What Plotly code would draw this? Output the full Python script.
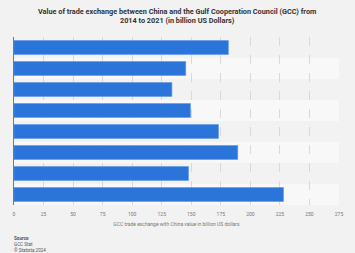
import plotly.graph_objects as go

years = ["2014", "2015", "2016", "2017", "2018", "2019", "2020", "2021"]
values = [181.4, 145.3, 133.6, 149.3, 173.0, 189.3, 147.6, 228.0]
tick_vals = [0, 25, 50, 75, 100, 125, 150, 175, 200, 225, 250, 275]

fig = go.Figure()
fig.add_trace(go.Bar(
    y=years, x=values, orientation="h",
    marker=dict(color="#2a74da", line=dict(color="#5d95e3", width=0.6)),
    width=0.66,
))

shapes = []
for i, yr in enumerate(years):
    shapes.append(dict(
        type="rect", xref="paper", yref="y", layer="below",
        x0=0, x1=1, y0=i - 0.5, y1=i + 0.5,
        fillcolor="#f2f2f2" if i % 2 == 0 else "#f8f8f8", line=dict(width=0),
    ))

fig.update_layout(
    width=355, height=253,
    margin=dict(l=14, r=13, t=37, b=48),
    paper_bgcolor="#f2f2f2", plot_bgcolor="#f2f2f2",
    showlegend=False,
    shapes=shapes,
    bargap=0.34,
    xaxis=dict(
        range=[0, 275], tickvals=tick_vals, ticktext=[str(v) for v in tick_vals],
        showgrid=True, gridcolor="#d9d9d9", griddash="dash", gridwidth=0.7,
        zeroline=False, ticks="", showline=False, ticklabelstandoff=5,
        tickfont=dict(family="Roboto, Arial", size=5, color="#777777"),
        title=dict(text="GCC trade exchange with China value in billion US dollars",
                   font=dict(family="Roboto, Arial", size=5, color="#777777"), standoff=6),
    ),
    yaxis=dict(
        autorange="reversed", showticklabels=False, ticks="", showgrid=False,
        showline=True, linecolor="#777777", linewidth=1,
    ),
    annotations=[
        dict(text="<b>Value of trade exchange between China and the Gulf Cooperation Council (GCC) from<br>2014 to 2021 (in billion US Dollars)</b>",
             xref="paper", yref="paper", x=0.5, y=1.19, xanchor="center", yanchor="top",
             showarrow=False, align="center",
             font=dict(family="Roboto, Arial", size=7.3, color="#333333")),
        dict(text="<b>Source</b><br>GCC Stat<br>© Statista 2024", xref="paper", yref="paper",
             x=-0.005, y=-0.175, xanchor="left", yanchor="top", showarrow=False, align="left",
             font=dict(family="Roboto, Arial", size=4.6, color="#555555")),
    ],
)

fig.write_html("out.html")
